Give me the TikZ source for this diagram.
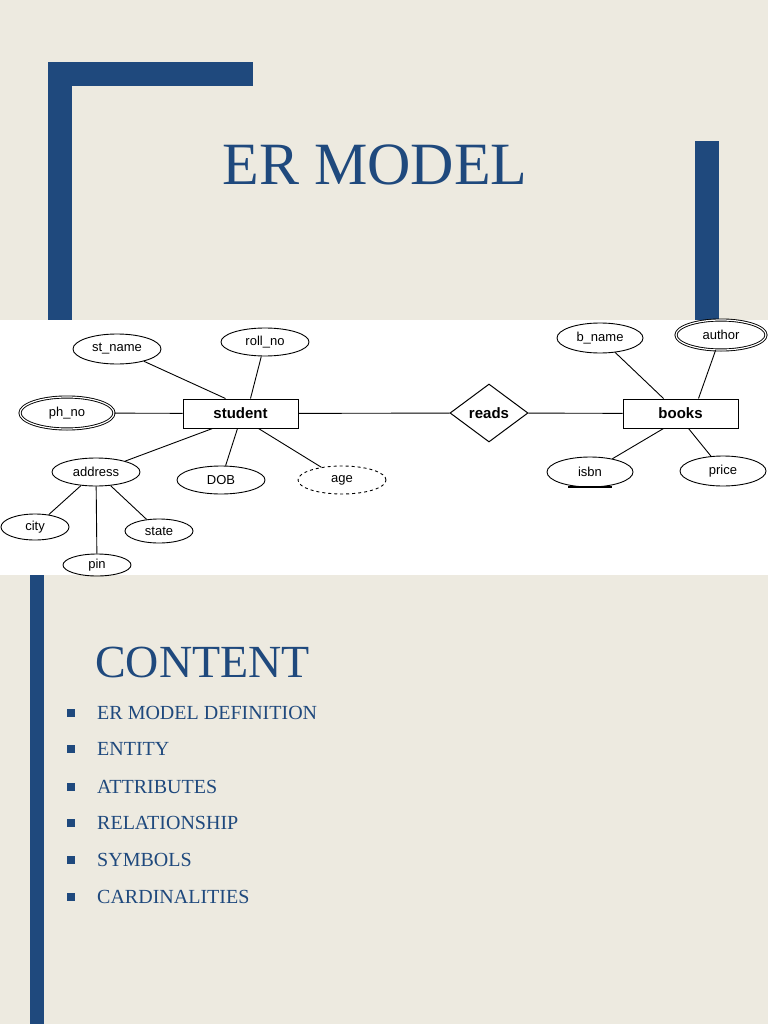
\documentclass[tikz,border=0pt]{standalone}
\usepackage{fontspec}
\setmainfont{Liberation Serif}
\newfontfamily\erfont{Liberation Sans}
\usetikzlibrary{shapes.geometric}
\definecolor{bg}{RGB}{237,234,224}
\definecolor{navy}{RGB}{31,73,125}
\begin{document}
\begin{tikzpicture}[x=1pt,y=-1pt,
  attr/.style={ellipse,draw,line width=0.9pt,inner sep=0pt,minimum width=#1,minimum height=28,font=\erfont\fontsize{13}{13}\selectfont},
  attr/.default=88,
  ent/.style={rectangle,draw,line width=1pt,minimum width=115,minimum height=29,font=\erfont\bfseries\fontsize{15}{15}\selectfont},
  lk/.style={line width=0.9pt},
  bul/.style={fill=navy,minimum size=8,inner sep=0pt},
  item/.style={anchor=west,text=navy,font=\fontsize{20}{20}\selectfont}]
\useasboundingbox (0,0) rectangle (768,1024);
\fill[bg] (0,0) rectangle (768,1024);
\fill[navy] (48,62) rectangle (253,86);
\fill[navy] (48,62) rectangle (72,320);
\fill[navy] (695,141) rectangle (719,320);
\node[text=navy,font=\fontsize{60}{60}\selectfont] (title) at (375,165) {ER MODEL};
\fill[white] (0,320) rectangle (768,575);
\fill[navy] (30,575) rectangle (44,1024);
\node[anchor=west,text=navy,font=\fontsize{46}{46}\selectfont,inner sep=0pt] (content) at (95,662) {CONTENT};
\foreach \y/\t [count=\i] in {713/ER MODEL DEFINITION,749/ENTITY,787/ATTRIBUTES,823/RELATIONSHIP,860/SYMBOLS,897/CARDINALITIES}{
  \node[bul] (b\i) at (71,\y) {};
  \node[item,inner sep=0pt] (t\i) at (97,\y) {\t};
}
% ER diagram
\node[ent] (student) at (240.5,413.5) {student};
\node[ent] (books) at (680.5,413.5) {books};
\node[diamond,draw,line width=1pt,inner sep=0pt,minimum width=78,minimum height=58,font=\erfont\bfseries\fontsize{15}{15}\selectfont] (reads) at (489,413) {reads};
\node[attr,minimum height=30] (stname) at (117,349) {st\_name};
\node[attr] (rollno) at (265,342) {roll\_no};
\node[attr=94,minimum height=32,double,double distance=1.2pt] (phno) at (67,413) {ph\_no};
\node[attr] (address) at (96,472) {address};
\node[attr] (dob) at (221,480) {DOB};
\node[attr,dashed] (age) at (342,480) {age};
\node[attr=68,minimum height=26] (city) at (35,527) {city};
\node[attr=68,minimum height=24] (state) at (159,531) {state};
\node[attr=68,minimum height=22] (pin) at (97,565) {pin};
\node[attr=86,minimum height=30] (bname) at (600,338) {b\_name};
\node[attr=90,minimum height=30,double,double distance=1.2pt] (author) at (721,335) {author};
\node[attr=86,minimum height=30] (isbn) at (590,472) {isbn};
\node[attr=86,minimum height=30] (price) at (723,471) {price};
\draw[line width=2pt] ([xshift=-22]isbn.south) -- ([xshift=22]isbn.south);
\draw[lk] (stname) -- ([xshift=-15]student.north);
\draw[lk] (rollno) -- ([xshift=10]student.north);
\draw[lk] (phno) -- (student);
\draw[lk] (student) -- (reads);
\draw[lk] (reads) -- (books);
\draw[lk] ([xshift=-28]student.south) -- (address);
\draw[lk] ([xshift=-3]student.south) -- (dob);
\draw[lk] ([xshift=18]student.south) -- (age);
\draw[lk] (address) -- (city);
\draw[lk] (address) -- (state);
\draw[lk] (address) -- (pin);
\draw[lk] (bname) -- ([xshift=-17]books.north);
\draw[lk] (author) -- ([xshift=18]books.north);
\draw[lk] ([xshift=-17]books.south) -- (isbn);
\draw[lk] ([xshift=8]books.south) -- (price);
\end{tikzpicture}
\end{document}
